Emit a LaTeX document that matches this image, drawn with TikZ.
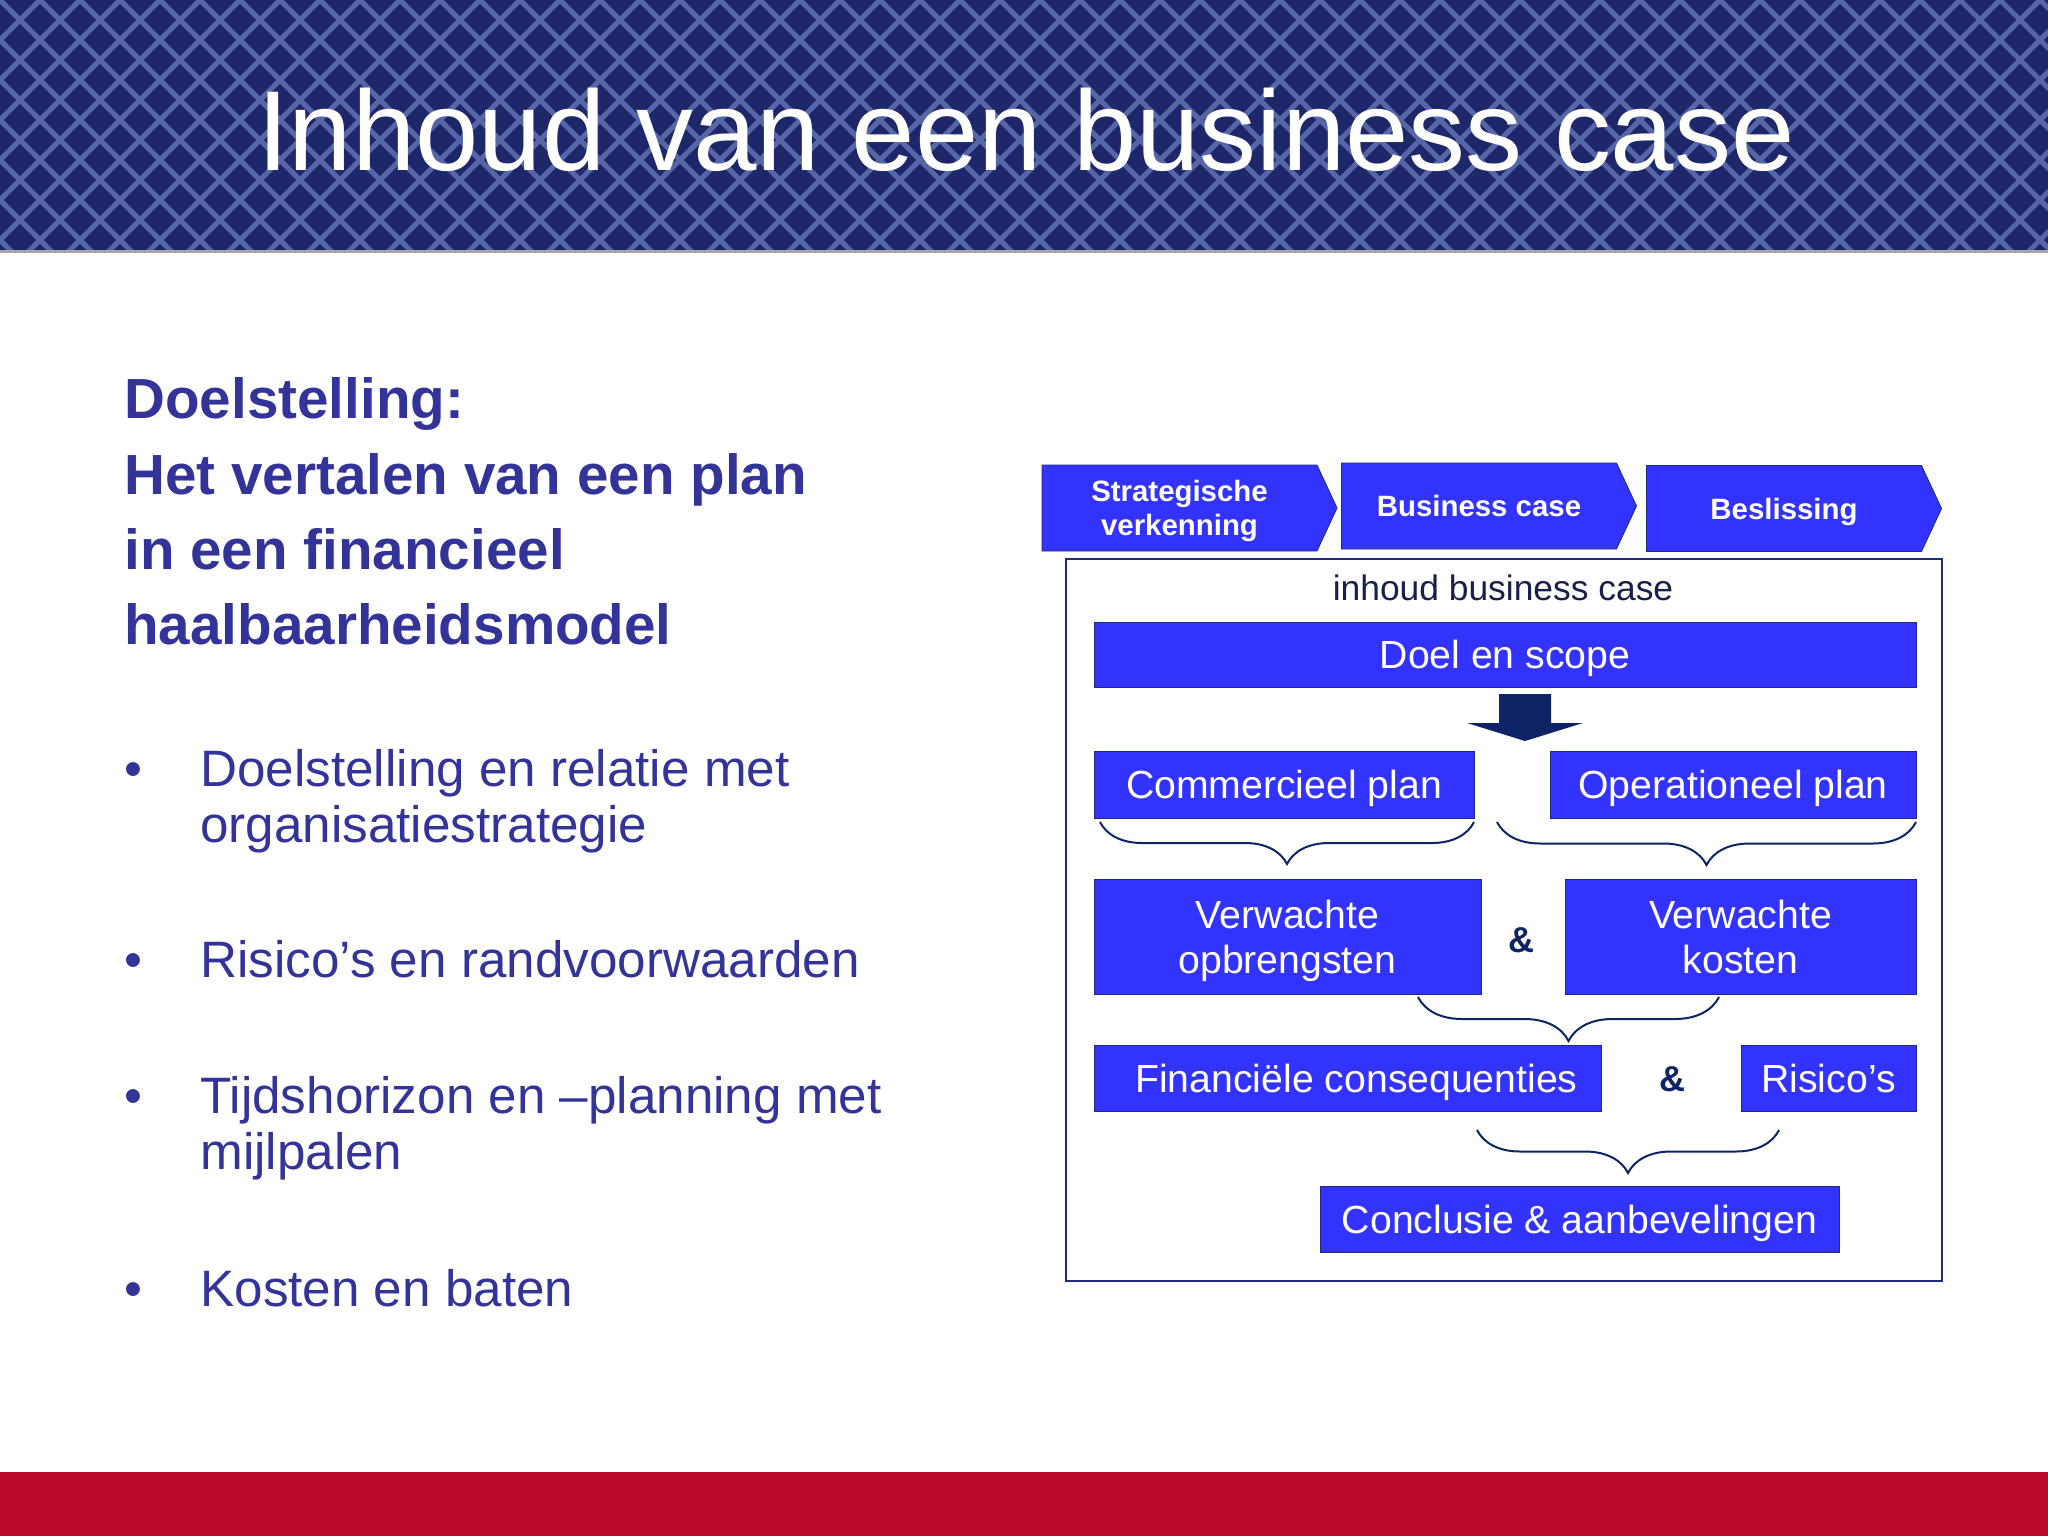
\documentclass[tikz,border=0pt]{standalone}
\usepackage{fontspec}
\setmainfont{Liberation Sans}
\usepackage{xcolor}
\usetikzlibrary{shapes.symbols,decorations.pathreplacing,positioning}

\definecolor{slideblue}{HTML}{333399}
\definecolor{boxblue}{HTML}{3333FF}
\definecolor{boxline}{HTML}{1F2A7A}
\definecolor{navy}{HTML}{0E2466}
\definecolor{darktext}{HTML}{1A1F4A}
\definecolor{headbg}{HTML}{1D276A}
\definecolor{headgrid}{HTML}{5565A6}
\definecolor{footred}{HTML}{B90A2C}

\tikzset{
  stagebox/.style={draw=boxline,fill=boxblue,text=white,signal,signal to=east,
    signal pointer angle=130,minimum width=147.5pt,minimum height=43pt,inner sep=0pt,
    align=center,text depth=0pt,font=\bfseries\fontsize{14.7}{17}\selectfont},
  planbox/.style={draw=boxline,fill=boxblue,text=white,inner sep=0pt,align=center,
    text depth=0pt,font=\fontsize{19.6}{22.5}\selectfont},
  headtext/.style={anchor=base west,inner sep=0pt,text=slideblue,
    font=\bfseries\fontsize{28.3}{34}\selectfont},
  itemtext/.style={anchor=base west,inner sep=0pt,text=slideblue,
    font=\fontsize{25.6}{30}\selectfont},
  amp/.style={text=navy,font=\bfseries\fontsize{18}{20}\selectfont},
  curly/.style={draw=navy,line width=1pt,decorate,decoration={brace,amplitude=#1}}
}

\begin{document}
\begin{tikzpicture}[x={(0.5pt,0pt)}, y={(0pt,-0.5pt)}]
  \useasboundingbox (0,0) rectangle (2048,1536);
  \fill[white] (0,0) rectangle (2048,1536);

  % Header
  \begin{scope}
    \clip (0,0) rectangle (2048,252);
    \fill[headbg] (0,0) rectangle (2048,252);
    \foreach \i in {-280,-240,...,2320} {
      \draw[headgrid,line width=2.5pt] (\i,0) -- ++(252,252);
      \draw[headgrid,line width=2.5pt] (\i,0) -- ++(-252,252);
    }
  \end{scope}
  \draw[gray!70,line width=1.5pt] (0,251) -- (2048,251);
  \fill[footred] (0,1472) rectangle (2048,1536);

  \node[anchor=base,inner sep=0pt,text=white,font=\fontsize{56.9}{60}\selectfont] (title) at (1026,170) {Inhoud van een business case};

  % Left text
  \node[headtext] (goal1) at (124,418) {Doelstelling:};
  \node[headtext] (goal2) at (124,494) {Het vertalen van een plan};
  \node[headtext] (goal3) at (124,569) {in een financieel};
  \node[headtext] (goal4) at (124,644) {haalbaarheidsmodel};

  \node[itemtext] (dot1) at (124,786) {•};
  \node[itemtext] (item1a) at (200,786) {Doelstelling en relatie met};
  \node[itemtext] (item1b) at (200,842) {organisatiestrategie};
  \node[itemtext] (dot2) at (124,977) {•};
  \node[itemtext] (item2) at (200,977) {Risico’s en randvoorwaarden};
  \node[itemtext] (dot3) at (124,1113) {•};
  \node[itemtext] (item3a) at (200,1113) {Tijdshorizon en –planning met};
  \node[itemtext] (item3b) at (200,1169) {mijlpalen};
  \node[itemtext] (dot4) at (124,1306) {•};
  \node[itemtext] (item4) at (200,1306) {Kosten en baten};

  % Stages
  \node[stagebox] (stage1) at (1179.5,508) {Strategische\\verkenning};
  \node[stagebox] (stage2) at (1479,506) {Business case};
  \node[stagebox] (stage3) at (1784,508.5) {Beslissing};

  % Frame
  \node[draw=boxline,line width=1pt,minimum width=438pt,minimum height=361pt,inner sep=0pt] (frame) at (1504,920) {};
  \node[anchor=base,inner sep=0pt,text=darktext,font=\fontsize{17.7}{20}\selectfont] (framelabel) at (1503,600) {inhoud business case};

  % Nodes
  \node[planbox,minimum width=411pt,minimum height=32.5pt] (scope) at (1505,654.5) {Doel en scope};
  \node[planbox,minimum width=190pt,minimum height=33.5pt] (complan) at (1284,784.5) {Commercieel plan};
  \node[planbox,minimum width=183pt,minimum height=33.5pt] (opplan) at (1733,784.5) {Operationeel plan};
  \node[planbox,minimum width=193.5pt,minimum height=57.5pt] (revenue) at (1287.5,936.5) {Verwachte\\opbrengsten};
  \node[amp] (amp1) at (1521,940) {\&};
  \node[planbox,minimum width=175.5pt,minimum height=57.5pt] (costs) at (1740.5,936.5) {Verwachte\\kosten};
  \node[planbox,minimum width=253.5pt,minimum height=33pt] (finance) at (1347.5,1078) {\hspace*{9pt}Financiële consequenties};
  \node[amp] (amp2) at (1672,1079) {\&};
  \node[planbox,minimum width=87.5pt,minimum height=33pt] (risks) at (1828.5,1078) {Risico’s};
  \node[planbox,minimum width=259.5pt,minimum height=33pt] (advice) at (1579.5,1219) {Conclusie \& aanbevelingen};

  % Arrow
  \fill[navy] (1499,694) -- (1551,694) -- (1551,723) -- (1583,723) -- (1525,741) -- (1467,723) -- (1499,723) -- cycle;

  % Braces
  \coordinate (b1r) at (1474,822);
  \coordinate (b1l) at (1100,822);
  \coordinate (b2r) at (1916,822);
  \coordinate (b2l) at (1497,822);
  \coordinate (b3r) at (1719,997);
  \coordinate (b3l) at (1418,997);
  \coordinate (b4r) at (1779,1130);
  \coordinate (b4l) at (1477,1130);
  \draw[curly=21pt] (b1r) -- (b1l);
  \draw[curly=21.5pt] (b2r) -- (b2l);
  \draw[curly=22pt] (b3r) -- (b3l);
  \draw[curly=21.5pt] (b4r) -- (b4l);
\end{tikzpicture}
\end{document}
